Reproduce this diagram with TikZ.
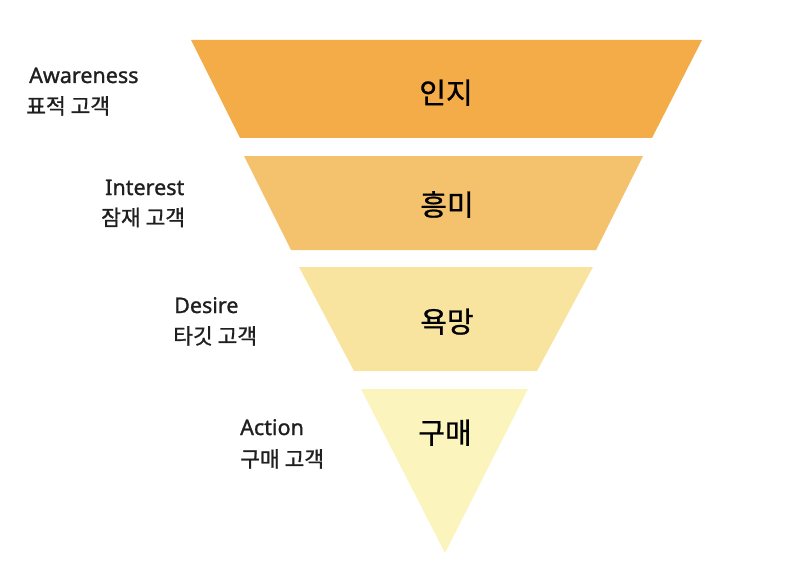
\documentclass[tikz,border=0pt]{standalone}
\usepackage{fontspec}
\setmainfont{Noto Sans}[FakeBold=0.6]
\newfontfamily\latf{Noto Sans}[FakeBold=1.2]
\newfontfamily\kr{Noto Sans CJK KR}[FakeBold=1.0]
\newfontfamily\krmid{Noto Sans CJK KR}[FakeBold=0.8]
\definecolor{cA}{HTML}{F3AC47}
\definecolor{cB}{HTML}{F4C16C}
\definecolor{cC}{HTML}{F8E49E}
\definecolor{cD}{HTML}{FBF4BD}
\begin{document}
\begin{tikzpicture}[x=1pt,y=-1pt,
  lat/.style={anchor=base west,inner sep=0pt,font=\latf\fontsize{21.5}{24}\selectfont,text=black!88},
  han/.style={anchor=base west,inner sep=0pt,font=\kr\fontsize{21.5}{24}\selectfont,text=black!88},
  mid/.style={anchor=base,inner sep=0pt,font=\krmid\fontsize{29}{32}\selectfont,text=black}]
\useasboundingbox (0,0) rectangle (800,567);
\fill[cA] (191,40) -- (702,40) -- (652,138) -- (240,138) -- cycle;
\fill[cB] (244,156) -- (643,156) -- (596,250) -- (291,250) -- cycle;
\fill[cC] (299,267) -- (593,267) -- (537,371) -- (354,371) -- cycle;
\fill[cD] (361,389) -- (528,389) -- (445,553) -- cycle;
\node[mid] (s1) at (446,103.5) {인지};
\node[mid] (s2) at (447,215.5) {흥미};
\node[mid] (s3) at (447,332.5) {욕망};
\node[mid] (s4) at (445,443.5) {구매};
\node[lat] (a1) at (29,83) {Awareness};
\node[han] (k1) at (26,114) {표적 고객};
\node[lat] (a2) at (105,195) {Interest};
\node[han] (k2) at (101,225.5) {잠재 고객};
\node[lat] (a3) at (174,313) {Desire};
\node[han] (k3) at (173,344) {타깃 고객};
\node[lat] (a4) at (240,435) {Action};
\node[han] (k4) at (240,467) {구매 고객};
\end{tikzpicture}
\end{document}
